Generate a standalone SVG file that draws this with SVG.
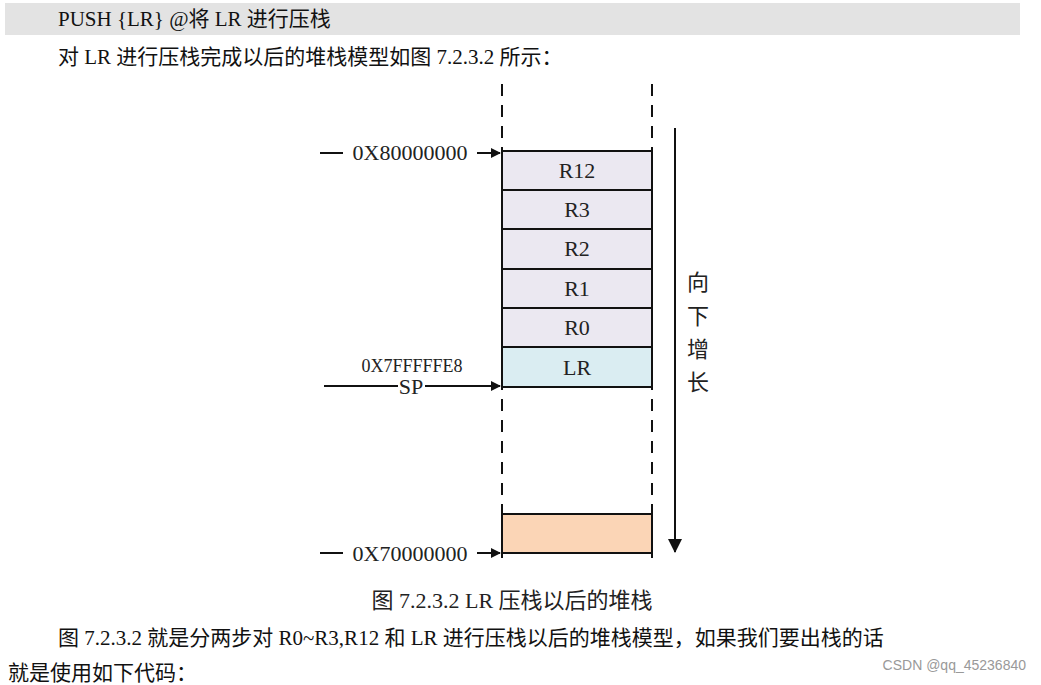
<svg xmlns="http://www.w3.org/2000/svg" width="1041" height="685" viewBox="0 0 1041 685">
<style>
.t{font-family:"Liberation Serif","Noto Sans CJK SC",serif;font-size:21px;fill:#111}
.c{font-family:"Liberation Serif","Noto Sans CJK SC",serif;font-size:22px;fill:#222;text-anchor:middle}
.cell{stroke:#111;stroke-width:2}
.ln{stroke:#111;stroke-width:2;fill:none}
</style>
<defs><marker id="a" markerWidth="10" markerHeight="10" refX="9" refY="5" orient="auto" markerUnits="userSpaceOnUse"><path d="M0,0L10,5L0,10z" fill="#111"/></marker>
<marker id="b" markerWidth="14" markerHeight="14" refX="13" refY="7" orient="auto" markerUnits="userSpaceOnUse"><path d="M0,0L14,7L0,14z" fill="#111"/></marker></defs>
<rect x="5" y="3" width="1015" height="32" fill="#e3e3e3"/>
<text class="t" x="58" y="26">PUSH {LR}    @将 LR 进行压栈</text>
<text class="t" x="58" y="64">对 LR 进行压栈完成以后的堆栈模型如图 7.2.3.2 所示：</text>
<g id="guides"><line x1="502" y1="84" x2="502" y2="560" stroke="#111" stroke-width="2" stroke-dasharray="12,9"/>
<line x1="652" y1="84" x2="652" y2="560" stroke="#111" stroke-width="2" stroke-dasharray="12,9"/></g>
<g id="r12"><rect class="cell" x="502" y="151" width="150" height="39" fill="#ebe8f1"/><text class="c" x="577" y="178">R12</text></g>
<g id="r3"><rect class="cell" x="502" y="190" width="150" height="39" fill="#ebe8f1"/><text class="c" x="577" y="217">R3</text></g>
<g id="r2"><rect class="cell" x="502" y="229" width="150" height="40" fill="#ebe8f1"/><text class="c" x="577" y="256">R2</text></g>
<g id="r1"><rect class="cell" x="502" y="269" width="150" height="39" fill="#ebe8f1"/><text class="c" x="577" y="296">R1</text></g>
<g id="r0"><rect class="cell" x="502" y="308" width="150" height="39" fill="#ebe8f1"/><text class="c" x="577" y="335">R0</text></g>
<g id="lr"><rect class="cell" x="502" y="347" width="150" height="40" fill="#daedf2"/><text class="c" x="577" y="375">LR</text></g>
<g id="bottom"><rect class="cell" x="502" y="514" width="150" height="39" fill="#fbd5b6"/></g>
<g id="labels">
<text class="c" x="410" y="160">0X80000000</text>
<text class="c" x="412" y="372" style="font-size:18px">0X7FFFFFE8</text>
<text class="c" x="411" y="394">SP</text>
<text class="c" x="410" y="561">0X70000000</text>
<text class="c" x="698" y="290">向</text>
<text class="c" x="698" y="324">下</text>
<text class="c" x="698" y="357">增</text>
<text class="c" x="698" y="390">长</text>
</g>
<g id="connectors">
<line class="ln" x1="320" y1="153" x2="343" y2="153"/>
<line class="ln" x1="477" y1="153" x2="500" y2="153" marker-end="url(#a)"/>
<line class="ln" x1="324" y1="386" x2="398" y2="386"/>
<line class="ln" x1="425" y1="386" x2="500" y2="386" marker-end="url(#a)"/>
<line class="ln" x1="320" y1="553" x2="343" y2="553"/>
<line class="ln" x1="477" y1="553" x2="500" y2="553" marker-end="url(#a)"/>
<line class="ln" x1="675" y1="128" x2="675" y2="552" marker-end="url(#b)"/>
</g>
<text class="c" x="512" y="608">图 7.2.3.2 LR 压栈以后的堆栈</text>
<text class="t" x="58" y="645">图 7.2.3.2 就是分两步对 R0~R3,R12 和 LR 进行压栈以后的堆栈模型，如果我们要出栈的话</text>
<text class="t" x="8" y="680">就是使用如下代码：</text>
<text x="1026" y="670" style="font-family:'Liberation Sans',sans-serif;font-size:14px;fill:#999;text-anchor:end">CSDN @qq_45236840</text>
</svg>
